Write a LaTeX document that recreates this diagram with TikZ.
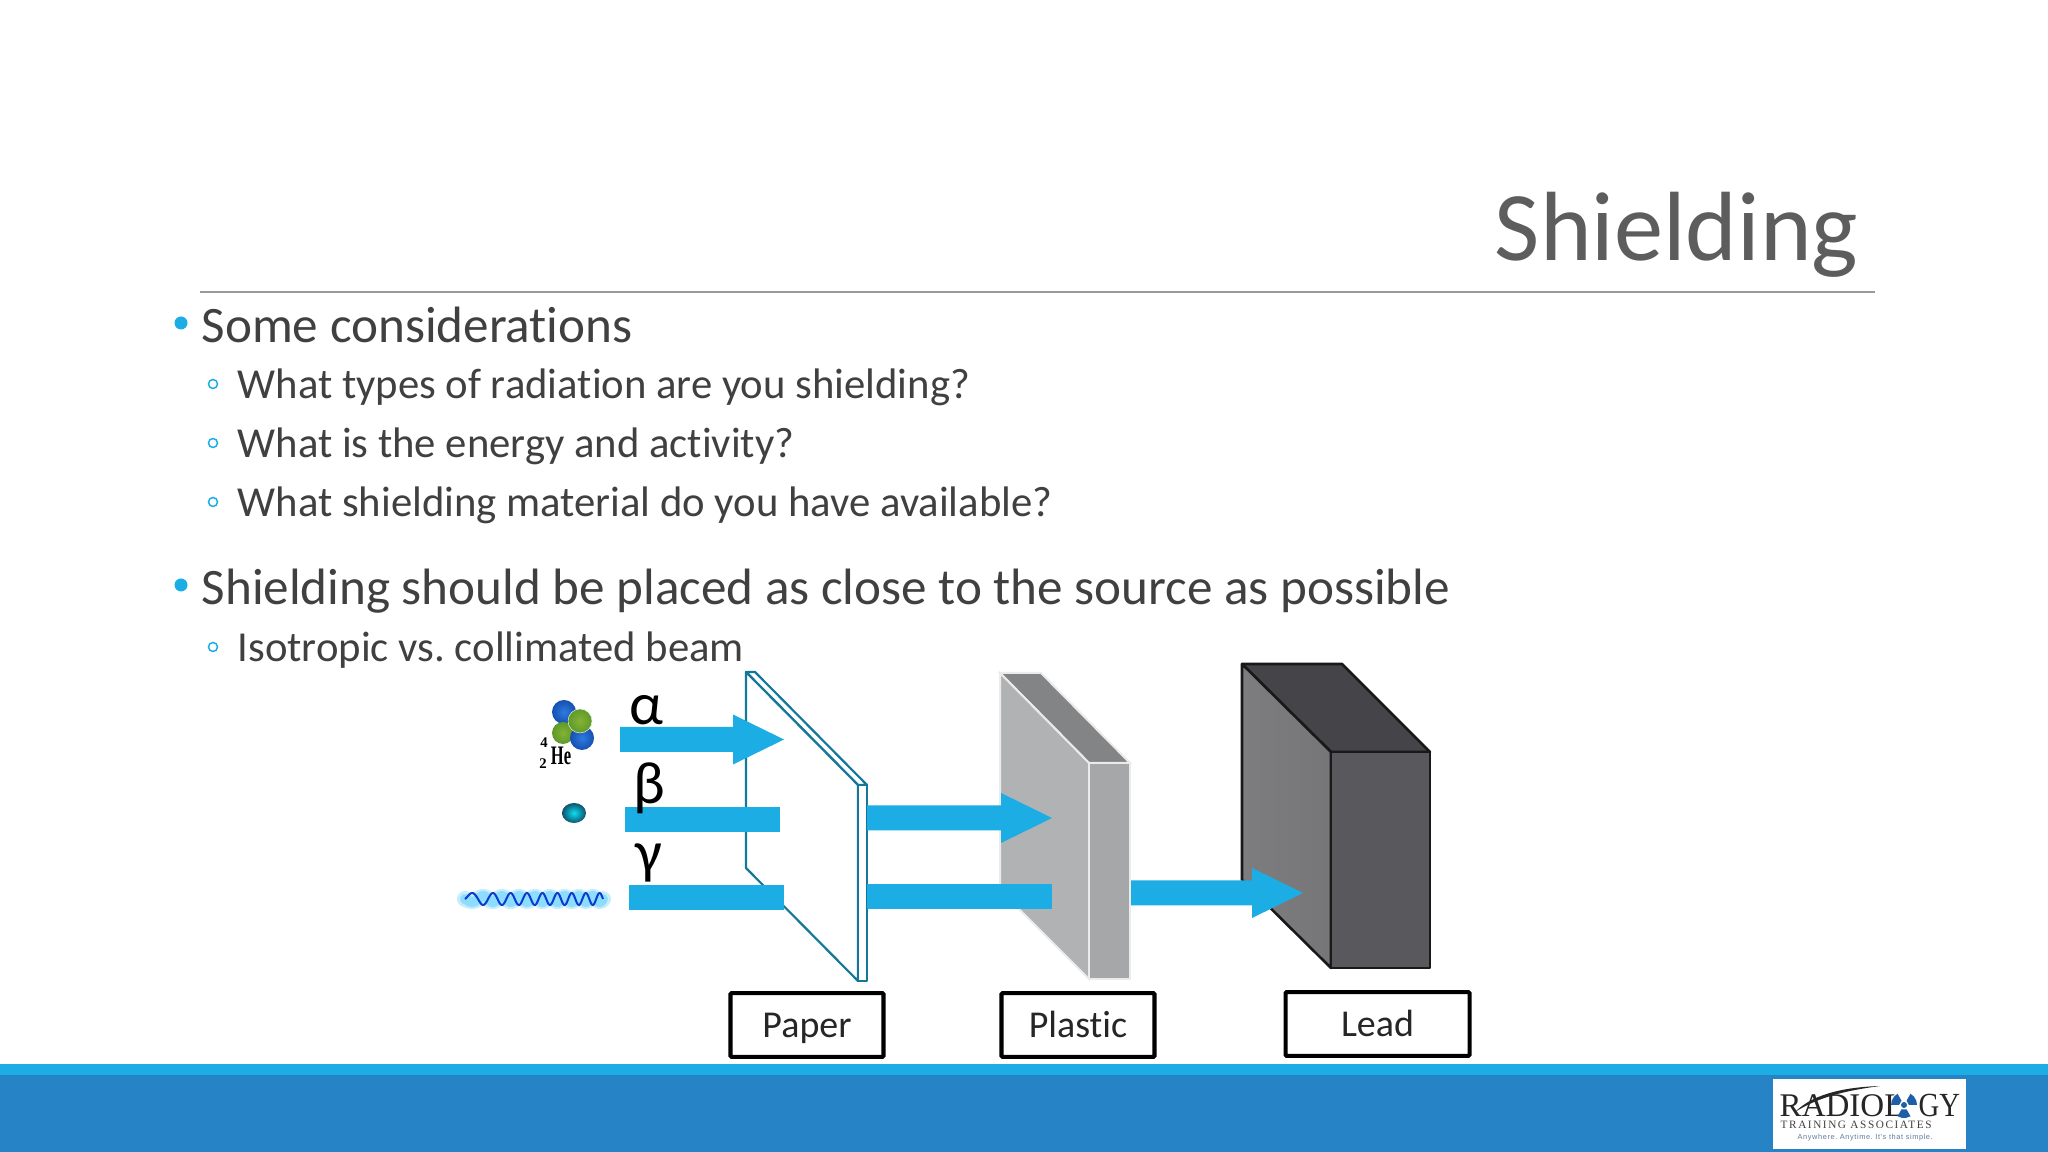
\documentclass[tikz,border=0pt]{standalone}
\usepackage{fontspec}
\setmainfont[Ligatures=NoCommon]{Carlito}
\newfontfamily\logoserif{Liberation Serif}
\newfontfamily\logospaced[LetterSpace=14]{Liberation Serif}
\newfontfamily\logosans[LetterSpace=8]{Liberation Sans}
\definecolor{slidetext}{HTML}{404040}
\definecolor{barlight}{HTML}{1CADE4}
\definecolor{bardark}{HTML}{2683C6}
\definecolor{papercol}{HTML}{14789A}
\definecolor{logoblue}{HTML}{1F5FA8}
\definecolor{hegreen}{HTML}{86B234}
\definecolor{hedarkgreen}{HTML}{5E9A2A}
\definecolor{heblue}{HTML}{2F7BE0}
\definecolor{hedarkblue}{HTML}{1550B0}
\tikzset{
	bodyone/.style={anchor=base west, inner sep=0, text=slidetext, font=\fontsize{14.55}{16}\selectfont},
	bodytwo/.style={anchor=base west, inner sep=0, text=slidetext, font=\fontsize{12.15}{14}\selectfont},
	greek/.style={anchor=base, inner sep=0, text=black, font=\fontsize{17}{19}\selectfont},
	material/.style={draw=black, line width=1.15pt, rounded corners=0.3pt, fill=white, inner sep=0, minimum height=6.37mm, text height=3.2mm, text depth=0.6mm, text=black!85, font=\fontsize{10.8}{12}\selectfont},
	beam/.style={fill=barlight},
	paperline/.style={draw=papercol, line width=0.22mm, fill=white, line join=round}
}
\def\beamarrow(#1:#2:#3){\fill[beam] (#1, #3-12.5) -- (#2, #3-12.5) -- (#2, #3-25) -- (#2+51, #3) -- (#2, #3+25) -- (#2, #3+12.5) -- (#1, #3+12.5) -- cycle;}
\def\beambar(#1:#2:#3){\fill[beam] (#1, #3-12.5) rectangle (#2, #3+12.5);}

\begin{document}
\frenchspacing
\begin{tikzpicture}[x=0.1mm, y=-0.1mm]
		%%%%% START %%%%%
		\useasboundingbox (0, 0) rectangle (2048, 1152);
		\fill[white] (0, 0) rectangle (2048, 1152);
		
		\node[anchor=base east, inner sep=0, text=slidetext!85, font=\fontsize{28}{32}\selectfont] (title) at (1859, 261) {Shielding};
		\draw[black!40, line width=0.2mm] (200, 292) -- (1875, 292);
		
		\fill[barlight] (181, 323) circle (6.5);
		\node[bodyone] (considerations) at (201, 342.5) {Some considerations};
		\foreach \ypos/\txt in {399/What types of radiation are you shielding?, 458/What is the energy and activity?, 517/What shielding material do you have available?}{
			\draw[barlight, line width=0.15mm] (213, \ypos-15) circle (4.5);
			\node[bodytwo] at (237, \ypos) {\txt};
		}
		\fill[barlight] (181, 585) circle (6.5);
		\node[bodyone] (placement) at (201, 605) {Shielding should be placed as close to the source as possible};
		\draw[barlight, line width=0.15mm] (213, 647) circle (4.5);
		\node[bodytwo] (isotropic) at (237, 662) {Isotropic vs. collimated beam};
		
		% helium
		\shade[inner color=heblue, outer color=hedarkblue] (564, 712) circle (12);
		\shade[inner color=hegreen, outer color=hedarkgreen] (563, 733) circle (11);
		\shade[inner color=heblue, outer color=hedarkblue] (582, 738) circle (12);
		\draw[white!80!hegreen, line width=0.05mm, inner color=hegreen, outer color=hedarkgreen] (580, 721) circle (12);
		\node[inner sep=0, anchor=base, font=\logoserif\bfseries\fontsize{7.6}{8}\selectfont] (he) at (561, 765) {\scalebox{0.62}[1]{He}};
		\node[inner sep=0, anchor=base, font=\logoserif\bfseries\fontsize{4.2}{5}\selectfont] (four) at (544, 748) {4};
		\node[inner sep=0, anchor=base, font=\logoserif\bfseries\fontsize{4.2}{5}\selectfont] (two) at (543, 769) {2};
		
		% electron
		\shade[inner color=cyan!60!barlight, outer color=papercol!70!black] (574, 813) ellipse (12 and 10);
		
		% photon
		\draw[cyan!22, line width=1.6mm, line cap=round] plot[domain=0:138, samples=160] ({465+\x}, {899+2*sin(360*8.5*pow(\x/138,1.2))});
		\draw[blue!30!cyan!45, line width=1mm, line cap=round] plot[domain=0:138, samples=160] ({465+\x}, {899+3*sin(360*8.5*pow(\x/138,1.2))});
		\draw[blue!50!papercol, line width=0.2mm] plot[domain=0:138, samples=260] ({465+\x}, {899-6*sin(360*8.5*pow(\x/138,1.2))});
		
		% paper
		\draw[paperline] (746, 672) -- (755, 672) -- (867, 785) -- (858, 785) -- cycle;
		\draw[paperline] (746, 672) -- (858, 785) -- (858, 981) -- (746, 868) -- cycle;
		\draw[paperline] (858, 785) -- (867, 785) -- (867, 981) -- (858, 981) -- cycle;
		
		% plastic
		\draw[draw=black!8, line width=0.2mm, fill={rgb,255:red,131;green,132;blue,134}] (1000, 673) -- (1041, 673) -- (1130, 763) -- (1089, 763) -- cycle;
		\draw[draw=black!8, line width=0.2mm, fill={rgb,255:red,177;green,178;blue,180}] (1000, 673) -- (1089, 763) -- (1089, 979) -- (1000, 890) -- cycle;
		\draw[draw=black!8, line width=0.2mm, fill={rgb,255:red,166;green,167;blue,169}] (1089, 763) -- (1130, 763) -- (1130, 979) -- (1089, 979) -- cycle;
		
		% lead
		\draw[draw=black!90, line width=0.26mm, line join=round, fill={rgb,255:red,69;green,68;blue,72}] (1242, 664) -- (1342, 664) -- (1430, 752) -- (1331, 752) -- cycle;
		\draw[draw=black!90, line width=0.26mm, line join=round, left color={rgb,255:red,125;green,124;blue,127}, right color={rgb,255:red,118;green,117;blue,120}] (1242, 664) -- (1331, 752) -- (1331, 968) -- (1242, 880) -- cycle;
		\draw[draw=black!90, line width=0.26mm, line join=round, fill={rgb,255:red,89;green,88;blue,92}] (1331, 752) -- (1430, 752) -- (1430, 968) -- (1331, 968) -- cycle;
		
		% beams
		\beamarrow(620:733:739.5)
		\beambar(625:780:820)
		\beambar(629:784:897.5)
		\beamarrow(867:1001:818)
		\beambar(867:1052:897)
		\beamarrow(1131:1252:893)
		
		\node[greek] (alpha) at (646, 725) {α};
		\node[greek] (beta) at (649, 804) {β};
		\node[greek] (gamma) at (649, 873) {γ};
		
		\node[material, minimum width=15.3mm] (paper) at (807, 1025) {Paper};
		\node[material, minimum width=15.3mm] (plastic) at (1078, 1025) {Plastic};
		\node[material, minimum width=18.4mm] (lead) at (1377.5, 1024) {Lead};
		
		% footer
		\fill[barlight] (0, 1064) rectangle (2048, 1075);
		\fill[bardark] (0, 1075) rectangle (2048, 1152);
		\fill[white] (1773, 1079) rectangle (1966, 1149);
		\node[anchor=base west, inner sep=0, text=black!85, font=\logoserif\fontsize{9.4}{10}\selectfont] (radiol) at (1779, 1116) {RADIOL};
		\node[anchor=base west, inner sep=0, text=black!85, font=\logoserif\fontsize{9.6}{10}\selectfont] (gy) at (1918, 1116) {\scalebox{0.85}[1]{GY}};
		\fill[black!85] (1795, 1112) .. controls (1815, 1092) and (1850, 1087) .. (1880, 1086) .. controls (1850, 1090) and (1820, 1096) .. (1795, 1112) -- cycle;
		\begin{scope}[shift={(1904, 1105)}]
			\foreach \ang in {-30, 90, 210}{
				\fill[logoblue] (\ang-30:5) -- (\ang-30:13) -- (\ang-10:13) -- (\ang+10:13) -- (\ang+30:13) -- (\ang+30:5) -- cycle;
			}
			\fill[logoblue] (0, 0) circle (3);
		\end{scope}
		\node[anchor=base west, inner sep=0, text=black!75, font=\logospaced\fontsize{3.2}{4}\selectfont] (training) at (1780, 1128) {TRAINING ASSOCIATES};
		\node[anchor=base west, inner sep=0, text=logoblue!70!black!70, font=\logosans\fontsize{2.1}{3}\selectfont] (tagline) at (1797, 1140) {Anywhere. Anytime. It's that simple.};
		%%%%% END %%%%%
	\end{tikzpicture}
\end{document}
